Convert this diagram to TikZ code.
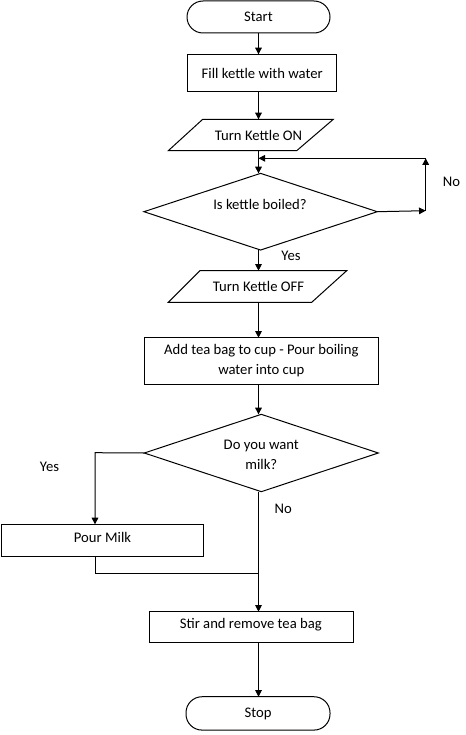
\documentclass[tikz,border=0pt]{standalone}
\usepackage{fontspec}
\setmainfont{Carlito}
\usetikzlibrary{arrows.meta,shapes.geometric}
\begin{document}
\begin{tikzpicture}[x=0.75pt,y=-0.75pt,
  line width=0.75pt,
  every node/.style={font=\fontsize{11pt}{15pt}\selectfont, inner sep=0pt, outer sep=0pt},
  box/.style={draw, rectangle},
  term/.style={draw, rectangle, rounded corners=12pt},
  dia/.style={draw, diamond},
  arr/.style={-{Triangle[length=5pt,width=5pt]}},
  lbl/.style={}
]
\useasboundingbox (0,0) rectangle (465,735);
\coordinate (ax) at (258.5,0);

% nodes
\node[term, minimum width=107.25pt, minimum height=24pt] (start) at (258.5,17) {Start};
\node[box, minimum width=111.75pt, minimum height=28.05pt] (fill) at (262.2,73) {Fill kettle with water};
\draw (202.7,119.3) -- (333.3,119.3) -- (296.7,150.7) -- (168.3,150.7) -- cycle;
\node[minimum height=23.55pt] (on) at (258.5,135) {Turn Kettle ON};
\node[dia, minimum width=175pt, minimum height=57.5pt] (kb) at (260.6,211.7) {};
\node (kbt) at (260,204) {Is kettle boiled?};
\draw (200,270.7) -- (346.7,270.7) -- (311.7,302.3) -- (168.3,302.3) -- cycle;
\node[minimum height=23.7pt] (off) at (258.5,286.5) {Turn Kettle OFF};
\node[box, minimum width=175.5pt, minimum height=34.95pt, align=center] (add) at (261.3,361) {Add tea bag to cup - Pour boiling\\water into cup};
\node[dia, minimum width=175.5pt, minimum height=58pt] (milk) at (261.3,453) {};
\node[align=center] (milkt) at (261.3,455) {Do you want\\milk?};
\node[box, minimum width=151.7pt, minimum height=23.8pt] (pour) at (102.8,540.2) {};
\node (pourt) at (102.5,537.7) {Pour Milk};
\node[box, minimum width=153pt, minimum height=22.95pt] (stir) at (251.3,627) {};
\node (stirt) at (250.8,625) {Stir and remove tea bag};
\node[term, minimum width=108pt, minimum height=25pt] (stop) at (258,713.4) {};
\node (stopt) at (258,714.3) {Stop};

% labels
\node (no1) at (451.5,182) {No};
\node (yes1) at (291,256) {Yes};
\node (yes2) at (49.5,467.3) {Yes};
\node (no2) at (283.3,509.3) {No};

% coordinates
\coordinate (rc) at (425.7,210.7);
\coordinate (tc) at (425.7,158.3);
\coordinate (yc) at (95,452.7);
\coordinate (mg) at (258.5,573.3);

% connectors
\draw[arr] (start.south) -- (start.south |- fill.north);
\draw[arr] (fill.south -| ax) -- (on.north -| ax);
\draw[arr] (on.south -| ax) -- (kb.north -| ax);
\draw[arr] (kb.east) -- (rc);
\draw[arr] (rc) -- (tc);
\draw[arr] (tc) -- (tc -| ax);
\draw[arr] (kb.south -| ax) -- (off.north -| ax);
\draw[arr] (off.south -| ax) -- (add.north -| ax);
\draw[arr] (add.south -| ax) -- (milk.north -| ax);
\draw[arr] (milk.west) -- (yc) -- (yc |- pour.north);
\draw (yc |- pour.south) -- (yc |- mg) -- (mg);
\draw[arr] (milk.south -| ax) -- (stir.north -| ax);
\draw[arr] (stir.south -| ax) -- (stop.north -| ax);
\end{tikzpicture}
\end{document}
